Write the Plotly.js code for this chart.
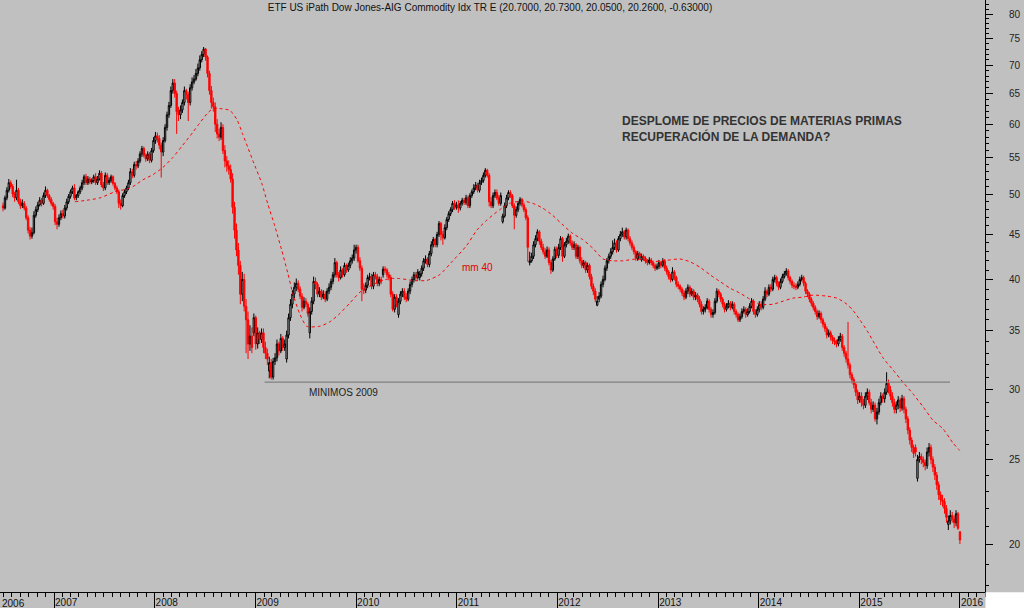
<!DOCTYPE html>
<html>
<head>
<meta charset="utf-8">
<script src="https://cdn.plot.ly/plotly-3.0.1.min.js"></script>
<style>html,body{margin:0;padding:0;background:#c0c0c0;}#chart{width:1024px;height:608px;}</style>
</head>
<body>
<div id="chart"></div>
<script>
// Weekly candles, first week ending 2006-06-30
const firstWeek = '2006-06-30';

const open = [
48.5,48.2,49.5,50.5,51.5,51,50,49.5,50.5,49,48.5,48.8,48.2,47,45.5,44.8,45.2,47.3,48,48.6,49.2,48.8,49.8,50.5,49.8,49.3,48.8,
48.4,46.5,46.2,47,47.5,47.2,48.2,49,49.7,50.3,50.8,49.5,49.8,50.3,50.8,51.5,52.3,51.5,52,51.6,51.8,52.3,51.5,52,52.8,51.2,50.8,52.5,51.5,51.8,52.3,51.4,50.8,50.3,48.8,48.5,49.8,50.3,50.8,51.5,53,52.5,54,53.8,54.5,55.5,56.3,55.3,54.8,55.5,54.6,56,
57.5,58.2,57.8,56.8,55.8,57.5,59.5,61.5,63,65.5,66.8,65,62,61.5,62.3,63.5,65.5,64.8,63.5,66,67,67.5,68.5,69.5,71,72,73,71.5,68.5,65.5,63.5,62.8,60,58.5,58,59.5,56,54.5,53.8,53.3,52,48.3,45.5,43.2,41.5,38.5,40,37.3,36,33.8,34.5,34.8,
36.2,33.8,34.8,34.2,34.8,33.5,33.0,31.5,32.2,31.0,32.3,32.6,33.8,33.2,34.3,33.5,32.5,34.6,36.2,37.5,38.5,39.2,39.6,39.0,38.3,37.2,37.8,37.5,34.8,36.8,37.8,39.8,39.5,38.5,38.8,38.2,38.5,38.0,38.8,39.2,39.8,40.5,41.8,40.5,40.2,41.0,40.5,41.5,41.0,41.5,42.0,42.3,
43.2,43.5,42,41.2,39,38.9,39.4,40.2,40.3,39.3,40.5,40.3,39.6,40,40.5,41.1,41,40.5,40.2,38.5,37,38.2,36.5,37.8,38.5,38.8,38.2,38,38.8,39.5,40,40.5,40.2,40.2,40.6,41.2,42,42.2,41.6,42.8,43.8,44.4,43.8,45,46.3,45,44.6,45.8,46.8,47.5,48,48.8,48.3,
48.6,48.2,48.8,49.2,48.9,49.5,48.5,49.8,50.3,50.8,51.2,50.5,51.5,51.8,52.5,53.2,52.5,49,48.5,49.8,50.2,49.5,48.8,46.5,47.2,48.5,49.5,50.2,49.8,48.5,47.3,48,48.8,49.3,48.6,48,47,41.8,42,42.5,43.8,44.5,45.3,44.2,43.5,43,42.5,43.2,41.8,41,42.2,43.3,
42.6,43.5,44.5,42.5,43.8,44.2,44.8,44,43.5,43.8,42.5,43.5,42,41.5,41.8,41,41.5,40.3,39.3,38.8,37.4,38,38.3,39.5,40,41.2,42,42.5,43,43.5,44,43.2,44.5,45,45.3,44.7,45.5,44.5,44,43.5,43,42.2,42.8,42.1,42.5,42.3,42,41.8,42.1,41.8,41.5,41.2,
41.4,41.8,41.5,42,41.2,40.8,40.3,40,40.8,40.2,39.5,39.3,39,38.6,38.2,38.8,39.2,38.5,38.8,38.2,38.4,38,37.5,36.8,37,37.2,37.8,37,36.5,36.7,37.8,38.8,38.5,38,37.5,37,37.3,37.6,37.2,37.5,36.8,36.5,36,36.3,36.8,37,36.5,36.8,37.3,37.8,36.8,36.5,
37,37.5,37.2,38,38.8,38.5,39.2,39,40,40.2,39.6,39.2,39.8,40.3,40.6,40.9,40.2,39.8,39.4,39.3,39.2,39.5,40,40.2,39.6,38.8,38.5,38,37.6,37.2,36.8,36.3,36.6,36,35.6,35.2,34.6,34.8,34.4,34.1,34,33.8,34.2,34.5,33.5,33,32.5,32,31.2,30.8,30.4,29.8,
29.2,29.5,29,28.8,29.5,29.8,29,28.5,28.8,27.8,28.3,29,29.5,29.3,29.8,30.5,30,29.5,29,28.5,28.8,29.2,28.6,29.3,28.5,27.8,27,26.3,25.8,25.8,23.8,25.0,25.2,25,24.8,24.6,25.5,25.8,25,24.5,24,23.4,22.8,22.5,22.4,22.0,21.1,21.3,21.6,21.4,21.2,21.7,20.70
];

const high = [
48.9,49.8,50.9,52.0,51.8,51.3,50.3,51.9,50.8,49.4,49.3,49.1,48.5,47.3,45.9,45.8,47.8,48.4,49.0,49.6,49.5,50.2,51.0,50.7,50.0,49.6,49.0,
48.7,47.0,47.4,47.9,48.0,48.6,49.4,50.0,50.6,51.1,51.3,50.0,50.5,51.1,51.9,52.6,52.7,52.4,52.3,52.1,52.6,52.8,52.4,53.2,53.1,51.6,52.9,52.8,52.2,52.6,52.5,51.6,51.1,50.6,49.3,50.1,50.6,51.1,51.9,53.5,53.4,54.4,54.5,54.9,55.9,56.7,56.6,55.6,55.9,55.8,56.4,58.0,
58.8,58.7,58.3,57.2,58.0,60.0,62.0,63.6,66.2,67.5,67.5,65.5,62.8,63.0,64.0,66.2,65.8,65.3,66.6,67.8,68.2,69.3,70.3,71.8,72.6,73.4,73.2,71.8,69.0,66.3,64.3,63.5,60.8,59.3,60.3,60.0,56.8,55.2,54.6,54.0,52.8,49.0,46.3,44.0,42.0,40.8,40.6,38.0,36.8,35.5,35.3,36.6,
36.4,35.3,35.0,35.2,35.2,34.0,33.4,32.7,32.5,32.6,33.0,34.2,34.0,34.7,34.5,34.2,35.0,36.6,38.0,38.9,39.7,40.1,39.9,39.3,38.6,38.2,38.1,37.7,37.2,38.2,40.3,40.2,39.7,39.2,39.0,38.9,38.8,39.1,39.6,40.1,40.8,42.3,42.0,40.8,41.4,41.2,41.8,41.7,41.8,42.4,42.7,43.8,
43.8,43.8,42.4,41.5,39.6,39.7,40.5,40.7,40.6,40.8,40.8,40.6,40.3,40.3,41.4,41.4,41.2,40.8,40.5,38.8,38.5,38.5,38.1,38.8,39.1,39.1,38.6,39.1,39.8,40.3,40.8,40.8,41.1,40.9,41.5,42.3,42.6,42.4,43.1,44.2,44.7,44.6,45.3,46.6,46.5,45.4,46.2,47.1,47.8,48.3,49.1,49.2,49.0,
49.2,49.1,49.5,49.5,49.9,49.8,50.1,50.6,51.3,51.6,51.5,51.9,52.2,52.9,53.5,53.4,52.8,49.6,50.2,50.6,50.6,49.9,50.2,47.5,48.9,49.9,50.5,50.5,50.0,48.8,48.4,49.1,49.6,49.5,48.9,48.3,47.3,43.0,42.9,44.2,44.9,45.6,45.5,44.5,43.9,43.4,43.6,43.5,42.1,42.5,43.6,43.6,
43.9,44.8,44.7,44.1,44.6,45.1,45.0,44.3,44.2,44.0,43.8,43.7,42.4,42.1,42.0,41.8,41.7,40.6,39.6,39.1,38.3,38.7,39.8,40.4,41.5,42.3,42.8,43.4,44.3,44.5,44.3,44.8,45.4,45.8,45.5,45.8,45.7,44.8,44.3,43.8,43.2,43.1,43.0,42.8,42.7,42.5,42.2,42.4,42.3,42.0,41.7,41.7,
42.1,42.0,42.3,42.2,41.5,41.0,40.6,41.3,41.0,40.4,39.8,39.5,39.2,38.9,39.1,39.5,39.4,39.1,39.0,38.7,38.6,38.3,37.8,37.3,37.5,38.1,38.0,37.2,37.0,38.1,39.1,39.0,38.7,38.2,37.7,37.6,37.9,37.8,37.8,37.7,37.0,36.7,36.6,37.1,37.3,37.2,37.1,37.6,38.1,38.0,37.0,37.3,
37.8,37.8,38.3,39.2,39.0,39.5,39.5,40.3,40.5,40.4,39.8,40.1,40.6,40.9,41.2,41.1,40.4,40.0,39.7,39.6,39.8,40.3,40.5,40.4,39.8,39.0,38.7,38.2,37.8,37.4,37.0,36.9,36.8,36.2,35.8,35.4,35.1,35.0,34.6,34.4,34.2,34.5,34.8,34.7,33.7,33.2,35.8,32.2,31.4,31.0,30.6,30.0,
29.8,29.8,29.3,29.8,30.1,30.0,29.3,29.1,29.0,28.6,29.3,29.8,29.7,30.1,31.4,30.8,30.3,29.8,29.3,29.1,29.5,29.4,29.6,29.5,28.7,28.0,27.2,26.5,26.0,26.0,25.3,25.5,25.4,25.2,25.0,25.8,26.1,26.0,25.2,24.7,24.2,23.6,23.0,22.8,22.6,22.2,21.6,21.9,21.8,21.6,21.9,21.8,20.73
];

const low = [
47.8,48.0,49.2,50.2,50.7,49.6,49.0,49.2,48.7,48.1,48.2,47.9,46.7,45.1,44.4,44.5,45.0,47.0,47.7,48.4,48.4,48.6,49.5,49.5,49.0,48.5,48.0,
46.1,45.6,45.9,46.7,46.9,46.9,47.9,48.7,49.4,50.0,49.2,49.2,49.5,50.0,50.5,51.2,51.2,51.2,51.3,51.3,51.5,51.2,51.2,51.8,50.9,50.4,50.5,51.2,51.2,51.5,51.1,50.5,50.0,48.2,48.0,48.3,49.5,50.0,50.5,51.2,52.1,52.2,53.3,53.5,54.2,55.1,55.0,54.4,54.5,54.2,54.3,55.7,
57.0,57.2,56.2,52.2,55.2,57.2,59.0,61.0,62.6,65.0,64.3,58.5,60.5,60.8,61.8,63.0,64.0,60.5,63.0,65.5,66.6,67.2,68.0,69.0,70.5,71.5,70.8,67.8,64.8,62.5,62.0,58.8,57.8,57.4,57.6,55.5,53.6,53.0,52.6,51.5,47.5,44.5,42.5,40.5,37.5,37.8,36.8,33.0,32.5,33.2,33.0,34.5,
33.3,33.4,33.8,33.9,33.0,32.5,32.0,30.9,30.8,30.8,32.0,32.3,32.8,33.0,33.2,33.2,32.2,34.3,35.9,37.1,38.1,38.8,38.7,38.0,36.8,37.0,37.2,36.3,34.3,36.5,37.5,39.0,38.2,38.2,37.9,38.0,37.7,37.8,38.5,38.9,39.5,40.2,40.2,39.8,40.0,40.2,40.3,40.7,40.8,41.2,41.7,42.0,
42.8,41.8,40.9,37.8,38.5,38.6,39.1,39.9,39.0,39.0,40.0,39.3,39.3,39.5,40.2,40.7,40.2,39.9,38.2,36.8,36.7,37.2,36.2,37.5,38.2,37.9,37.7,37.8,38.5,39.2,39.7,39.9,40.0,39.9,40.3,40.9,41.7,41.3,41.3,42.5,43.5,43.5,43.5,44.7,44.3,43.8,44.4,45.5,46.5,47.2,47.7,48.0,48.0,
47.6,47.9,48.5,48.6,48.6,48.2,48.2,49.5,50.0,50.5,50.2,50.2,51.2,51.5,52.2,52.2,48.4,48.2,48.2,49.5,49.2,48.5,48.5,46.3,47.0,48.2,49.2,49.5,48.2,45.6,47.0,47.7,48.5,48.3,47.7,46.7,41.9,41.5,41.8,42.2,43.5,44.2,43.8,43.2,42.7,42.2,42.3,41.5,40.6,40.8,42.0,42.3,
42.3,43.2,41.9,42.3,43.5,43.9,43.7,43.2,43.2,42.2,42.2,41.7,41.2,41.2,40.7,40.7,40.0,39.0,38.4,37.7,37.3,37.7,38.1,39.2,39.8,40.9,41.7,42.2,42.7,43.2,42.9,43.0,44.2,44.7,44.4,44.4,44.2,43.7,43.2,42.7,42.0,42.0,42.2,41.9,42.0,41.7,41.5,41.6,41.5,41.2,40.9,41.0,
41.1,41.2,41.3,40.9,40.5,40.0,39.7,39.8,39.9,39.2,39.0,38.7,38.3,37.9,38.0,38.5,38.2,38.3,37.9,37.9,37.7,37.2,36.5,36.5,36.7,37.0,36.7,36.2,36.2,36.5,37.6,38.2,37.7,37.2,36.7,36.8,37.1,36.9,37.0,36.5,36.2,35.8,35.8,36.1,36.6,36.2,36.3,36.6,37.1,36.5,36.2,36.3,
36.7,36.9,37.0,37.8,38.2,38.3,38.7,38.8,39.7,39.3,38.9,39.0,39.6,40.1,40.4,39.9,39.5,39.1,39.0,38.9,39.0,39.3,39.8,39.3,38.5,38.2,37.7,37.3,36.9,36.5,36.0,36.1,35.7,35.3,34.9,34.3,34.4,34.1,33.8,33.7,33.5,33.6,34.0,33.2,32.7,32.2,31.7,30.9,30.5,30.1,29.5,28.9,
29.0,28.7,28.5,28.6,29.2,28.8,28.2,28.3,27.6,27.4,28.1,28.8,29.0,29.0,29.6,29.7,29.2,28.7,28.2,28.2,28.5,28.3,28.4,28.2,27.5,26.7,26.0,25.5,25.1,25.2,23.6,24.8,24.7,24.5,24.3,24.4,25.2,24.7,24.2,23.7,23.1,22.5,22.2,22.1,21.7,21.2,20.8,21.1,21.2,20.9,21.0,20.8,20.05
];

const close = [
48.2,49.5,50.5,51.5,51,50,49.5,50.5,49,48.5,48.8,48.2,47,45.5,44.8,45.2,47.3,48,48.6,49.2,48.8,49.8,50.5,49.8,49.3,48.8,48.4,
46.5,46.2,47,47.5,47.2,48.2,49,49.7,50.3,50.8,49.5,49.8,50.3,50.8,51.5,52.3,51.5,52,51.6,51.8,52.3,51.5,52,52.8,51.2,50.8,52.5,51.5,51.8,52.3,51.4,50.8,50.3,48.8,48.5,49.8,50.3,50.8,51.5,53,52.5,54,53.8,54.5,55.5,56.3,55.3,54.8,55.5,54.6,56,57.5,
58.2,57.8,56.8,55.8,57.5,59.5,61.5,63,65.5,66.8,65,62,61.5,62.3,63.5,65.5,64.8,63.5,66,67,67.5,68.5,69.5,71,72,73,71.5,68.5,65.5,63.5,62.8,60,58.5,58,59.5,56,54.5,53.8,53.3,52,48.3,45.5,43.2,41.5,38.5,40,37.3,36,33.8,34.5,33.5,36.2,
33.8,34.8,34.2,34.8,33.5,33.0,32.5,32.2,31.0,32.3,32.6,33.8,33.2,34.3,33.5,33.8,34.6,36.2,37.5,38.5,39.2,39.6,39.0,38.3,37.2,37.8,37.5,36.6,36.8,37.8,39.8,39.5,38.5,38.8,38.2,38.5,38.0,38.8,39.2,39.8,40.5,41.8,40.5,40.2,41.0,40.5,41.5,41.0,41.5,42.0,42.3,43.2,
43.5,42,41.2,39,38.9,39.4,40.2,40.3,39.3,40.5,40.3,39.6,40,39.8,41.1,41,40.5,40.2,38.5,37,38.2,37.5,37.8,38.5,38.8,38.2,38,38.8,39.5,40,40.5,40.2,40.8,40.6,41.2,42,42.2,41.6,42.8,43.8,44.4,43.8,45,46.3,45,44.6,45.8,46.8,47.5,48,48.8,48.3,48.6,
48.2,48.8,49.2,48.9,49.5,48.5,49.8,50.3,50.8,51.2,50.5,51.5,51.8,52.5,53.2,52.5,49,48.5,49.8,50.2,49.5,48.8,49.8,47.2,48.5,49.5,50.2,49.8,48.5,47.3,48,48.8,49.3,48.6,48,47,43.5,42,42.5,43.8,44.5,45.3,44.2,43.5,43,42.5,43.2,41.8,41,42.2,43.3,42.6,
43.5,44.5,42.5,43.8,44.2,44.8,44,43.5,43.8,42.5,43.5,42,41.5,41.8,41,41.5,40.3,39.3,38.8,38,37.8,38.3,39.5,40,41.2,42,42.5,43,43.5,44,43.2,44.5,45,45.3,44.7,45.5,44.5,44,43.5,43,42.3,42.8,42.5,42.5,42.3,42,41.8,42.1,41.8,41.5,41.2,41.4,
41.8,41.5,42,41.2,40.8,40.3,40,40.8,40.2,39.5,39.3,39,38.6,38.2,38.8,39.2,38.5,38.8,38.2,38.4,38,37.5,36.8,37,37.2,37.8,37,36.5,36.7,37.8,38.8,38.5,38,37.5,37,37.3,37.6,37.2,37.5,36.8,36.5,36,36.3,36.8,37,36.5,36.8,37.3,37.8,36.8,36.5,37,
37.5,37.2,38,38.8,38.5,39.2,39,40,40.2,39.6,39.2,39.8,40.3,40.6,40.9,40.2,39.8,39.4,39.3,39.2,39.5,40,40.2,39.6,38.8,38.5,38,37.6,37.2,36.8,36.3,36.6,36,35.6,35.2,34.6,34.8,34.4,34.1,34,33.8,34.2,34.5,33.5,33,32.5,32,31.2,30.8,30.4,29.8,29.2,
29.5,29,28.8,29.5,29.8,29,28.5,28.8,27.8,28.3,29,29.5,29.3,29.8,30.5,30,29.5,29,28.5,28.8,29.2,28.6,29.3,28.5,27.8,27,26.3,25.8,25.4,25.5,25.0,25.2,25,24.8,24.6,25.5,25.8,25,24.5,24,23.4,22.8,22.5,22.4,22.0,21.5,21.3,21.6,21.4,21.2,21.7,20.89,20.26
];

// 40-week moving average ("mm 40")
const maDates = ['2007-03-18','2007-05-01','2007-06-17','2007-08-10','2007-09-16','2007-10-15','2007-11-20','2007-12-26',
'2008-01-31','2008-03-07','2008-04-12','2008-05-18','2008-06-13','2008-07-08','2008-07-30','2008-08-24','2008-09-30','2008-10-26','2008-11-16','2008-12-04','2008-12-22',
'2009-01-24','2009-02-14','2009-03-12','2009-04-06','2009-04-28','2009-05-16','2009-06-10','2009-07-06','2009-08-22','2009-09-27','2009-11-03','2009-12-09',
'2010-01-15','2010-02-19','2010-03-28','2010-05-03','2010-06-08','2010-07-25','2010-09-14','2010-10-31','2010-12-18',
'2011-02-06','2011-03-15','2011-04-20','2011-06-06','2011-07-12','2011-08-29','2011-10-04','2011-11-09','2011-12-15',
'2012-01-22','2012-02-26','2012-04-02','2012-05-09','2012-06-15','2012-07-21','2012-08-26','2012-10-16','2012-12-02',
'2013-01-18','2013-03-21','2013-04-26','2013-06-02','2013-07-08','2013-08-13','2013-09-19','2013-10-25','2013-11-30',
'2014-01-05','2014-02-22','2014-03-30','2014-05-05','2014-06-10','2014-07-17','2014-09-05','2014-10-12','2014-11-17','2014-12-09',
'2015-01-03','2015-01-29','2015-02-19','2015-03-28','2015-05-03','2015-06-08','2015-07-14','2015-08-20','2015-09-25','2015-10-31','2015-12-07','2015-12-31'];
const maValues = [49.0,49.2,49.5,50.3,50.6,51.0,51.9,52.6,
53.6,55.0,56.8,58.7,60.2,61.6,62.5,62.5,62.2,60.7,58.4,56.5,54.6,
51.4,48.8,46.0,43.2,40.7,38.6,36.6,35.4,35.4,35.8,36.6,37.6,
38.7,39.3,39.8,40.1,40.1,39.9,39.9,40.5,42.0,
43.7,45.5,46.7,48.0,48.8,49.1,48.8,48.2,47.3,
46.1,45.1,44.4,43.4,42.2,42.0,42.0,42.2,41.9,
42.0,42.2,41.9,41.3,40.5,39.8,39.1,38.6,38.0,
37.5,37.5,37.8,38.1,38.2,38.4,38.3,38.1,37.5,36.9,
36.0,35.0,34.1,32.6,31.6,30.6,29.7,28.7,27.7,27.1,26.1,25.6];

// "MINIMOS 2009" support line
const minLineDates = ['2009-02-03', '2015-11-26'];
const minLineValues = [30.6, 30.6];

const yMajorTicks = [20,25,30,35,40,45,50,55,60,65,70,75,80];
const yMinorTicks = [];
for (let v = 18; v <= 82; v++) if (v % 5 !== 0) yMinorTicks.push(v);

const t0 = Date.UTC(2006, 5, 30);
const dates = close.map((_, i) => new Date(t0 + i * 7 * 86400000).toISOString().slice(0, 10));

const FONT = 'Liberation Sans, Arial, sans-serif';

const traces = [
  {
    type: 'candlestick', x: dates, open: open, high: high, low: low, close: close,
    increasing: {line: {color: '#000000', width: 1}, fillcolor: 'rgba(0,0,0,0)'},
    decreasing: {line: {color: '#ff0000', width: 1}, fillcolor: '#ff0000'},
    whiskerwidth: 0, hoverinfo: 'skip', showlegend: false
  },
  {
    type: 'scatter', mode: 'lines', x: maDates, y: maValues,
    line: {color: '#ff0000', width: 1, dash: '3px,3px', shape: 'spline', smoothing: 0.6},
    hoverinfo: 'skip', showlegend: false
  },
  {
    type: 'scatter', mode: 'lines', x: minLineDates, y: minLineValues,
    line: {color: '#808080', width: 1.3},
    hoverinfo: 'skip', showlegend: false
  }
];

const layout = {
  width: 1024, height: 608,
  margin: {l: 0, r: 39, t: 0, b: 16, pad: 0},
  paper_bgcolor: '#c0c0c0', plot_bgcolor: '#c0c0c0',
  showlegend: false,
  boxgap: 0,
  font: {family: FONT, size: 10, color: '#111111'},
  title: {
    text: 'ETF US iPath Dow Jones-AIG Commodity Idx TR E (20.7000, 20.7300, 20.0500, 20.2600, -0.63000)',
    font: {family: FONT, size: 10, color: '#111111'},
    x: 0.4785, xanchor: 'center', xref: 'container',
    y: 0.987, yanchor: 'middle', yref: 'container'
  },
  xaxis: {
    type: 'date', range: ['2006-06-19', '2016-04-01'],
    rangeslider: {visible: false}, fixedrange: true,
    showgrid: false, zeroline: false,
    showline: true, linecolor: '#000000', linewidth: 1,
    tickmode: 'linear', tick0: '2007-01-01', dtick: 'M12', tickformat: '%Y',
    ticks: 'outside', ticklen: 16, tickwidth: 1, tickcolor: '#000000',
    ticklabelposition: 'outside right', ticklabelstandoff: 1,
    tickfont: {family: FONT, size: 10, color: '#111111'},
    minor: {tick0: '2007-01-01', dtick: 'M1', ticks: 'outside', ticklen: 4, tickwidth: 1, tickcolor: '#000000', showgrid: false}
  },
  yaxis: {
    type: 'log', side: 'right', range: [Math.log10(17.69), Math.log10(82.98)], fixedrange: true,
    showgrid: false, zeroline: false,
    showline: true, linecolor: '#000000', linewidth: 1,
    tickmode: 'array', tickvals: yMajorTicks, ticktext: yMajorTicks.map(String),
    ticks: 'outside', ticklen: 7, tickwidth: 1, tickcolor: '#000000',
    ticklabelstandoff: 14,
    tickfont: {family: FONT, size: 10, color: '#222222'},
    minor: {tickmode: 'array', tickvals: yMinorTicks, ticks: 'outside', ticklen: 3, tickwidth: 1, tickcolor: '#000000', showgrid: false}
  },
  shapes: [
    {type: 'rect', xref: 'paper', yref: 'paper', x0: 1.0005, x1: 1.06, y0: -0.04, y1: -0.0005,
     fillcolor: '#ffffff', line: {width: 0}, layer: 'above'}
  ],
  annotations: [
    {xref: 'paper', yref: 'paper', x: 0.6294, y: 0.782, xanchor: 'left', yanchor: 'middle', align: 'left', showarrow: false,
     text: '<b>DESPLOME DE PRECIOS DE MATERIAS PRIMAS<br>RECUPERACIÓN DE LA DEMANDA?</b>',
     font: {family: FONT, size: 12, color: '#333333'}},
    {xref: 'paper', yref: 'paper', x: 0.467, y: 1 - 268/592, xanchor: 'left', yanchor: 'middle', showarrow: false,
     text: 'mm 40', font: {family: FONT, size: 10, color: '#e00000'}},
    {xref: 'paper', yref: 'paper', x: 0.3117, y: 1 - 392/592, xanchor: 'left', yanchor: 'middle', showarrow: false,
     text: 'MINIMOS 2009', font: {family: FONT, size: 10, color: '#222222'}},
    {xref: 'paper', yref: 'paper', x: 0.0, y: -11/592, xanchor: 'left', yanchor: 'middle', showarrow: false,
     text: '2006', font: {family: FONT, size: 10, color: '#111111'}}
  ]
};

Plotly.newPlot('chart', traces, layout, {displayModeBar: false, staticPlot: true});
</script>
</body>
</html>
